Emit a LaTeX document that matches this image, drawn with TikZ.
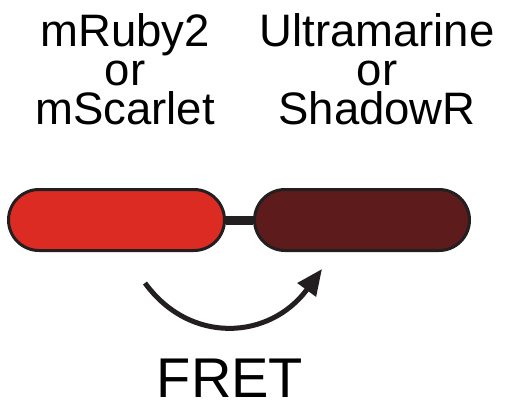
\documentclass[tikz,border=0pt]{standalone}
\usepackage{fontspec}
\setmainfont{Liberation Sans}
\usetikzlibrary{arrows.meta,shapes.misc}
\definecolor{rubyred}{HTML}{DC2B22}
\definecolor{shadowbrown}{HTML}{5E1B1B}
\definecolor{rim}{HTML}{231F20}
\tikzset{epais/.style={line width=3pt}}
\newcommand{\protein}[4]{\node[draw=rim, epais, fill=#2, rounded rectangle,
	minimum width=#3, minimum height=61pt, inner sep=0pt] (#1) at (#4) {}}
\newcommand{\nom}[3]{\node[anchor=north, inner sep=0pt, align=center,
	font=\fontsize{45.5}{39}\selectfont] (#1) at (#2) {#3}}

\begin{document}
\begin{tikzpicture}[x=1pt, y=-1pt]
	\useasboundingbox (0,0) rectangle (508,415);
%Names
	\nom{donor}{125,13}{mRuby2\\or\\mScarlet};
	\nom{acceptor}{377,13}{Ultramarine\\or\\ShadowR};
%The two proteins
	\protein{ruby}{rubyred}{216pt}{116.5,220};
	\protein{shadow}{shadowbrown}{215pt}{362,220};
%Linker
	\draw[line width=9pt, rim] (ruby.east) -- (shadow.west);
%Transfer arrow
	\coordinate (from) at (145,283);
	\coordinate (to) at (322,269);
	\draw[rim, line width=5pt, -{Triangle[length=26pt,width=22pt]}]
		(from) .. controls (190,345) and (270,340) .. (to);
	\node[anchor=base, inner sep=0pt, font=\fontsize{56}{60}\selectfont] (fret) at (230,397) {FRET};
\end{tikzpicture}
\end{document}
